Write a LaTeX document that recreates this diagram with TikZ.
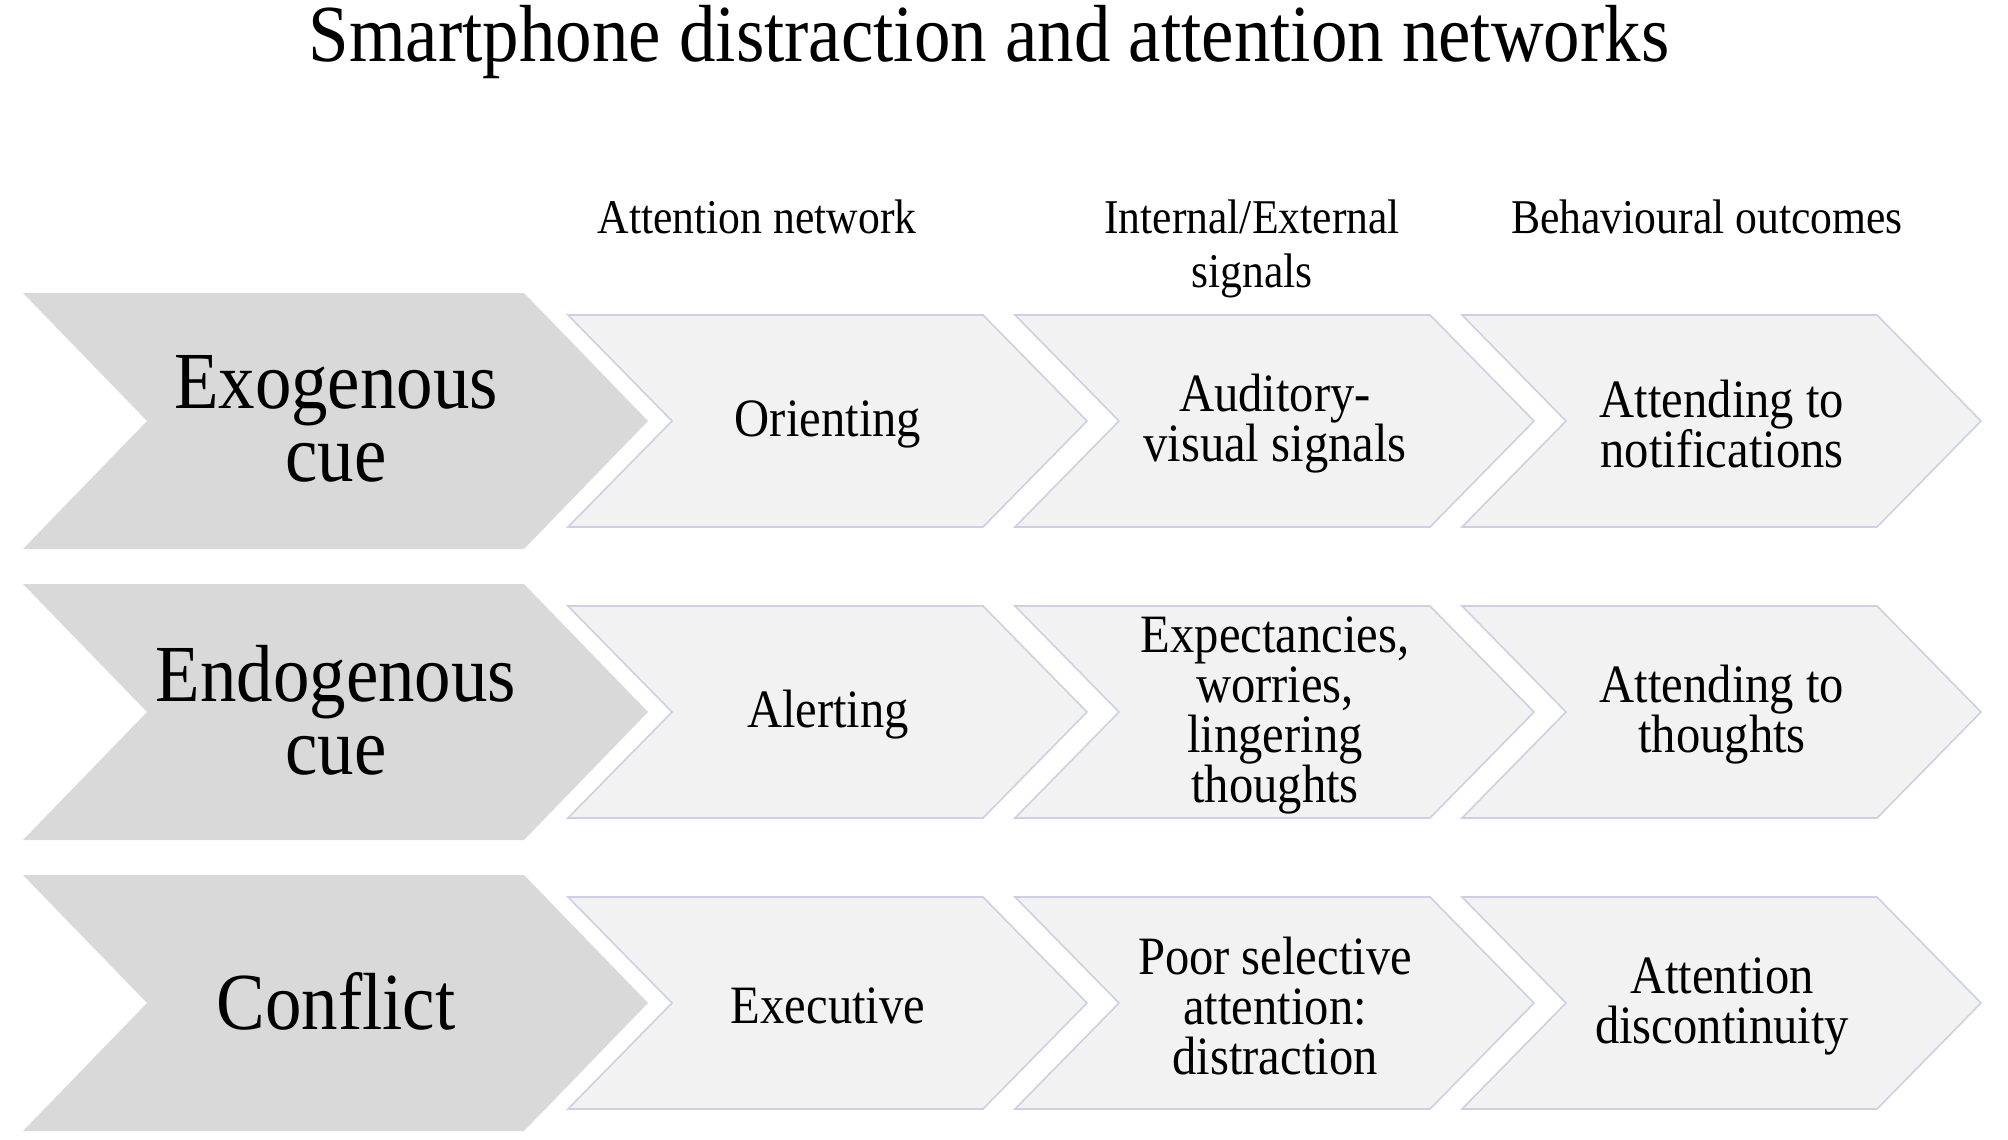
\documentclass[tikz,border=0pt]{standalone}
\usepackage{fontspec}
\setmainfont{Liberation Serif}[FakeStretch=0.9]
\newcommand\chevshape[6]{% x, ycenter, width, halfheight, depth, style
  \path[#6] (#1,{#2-#4}) -- ({#1+#3-#5},{#2-#4}) -- ({#1+#3},#2) -- ({#1+#3-#5},{#2+#4}) -- (#1,{#2+#4}) -- ({#1+#5},#2) -- cycle;}
\tikzset{
  bigchev/.style={fill=bigfill},
  smallchev/.style={fill=smallfill, draw=edgecol, line width=1.6pt, line join=miter},
  titletext/.style={inner sep=0pt, font=\fontsize{81}{81}\selectfont},
  headtext/.style={inner sep=0pt, align=center, font=\fontsize{48.5}{54}\selectfont},
  bigtext/.style={inner sep=0pt, align=center, font=\fontsize{81}{73}\selectfont},
  celltext/.style={inner sep=0pt, align=center, font=\fontsize{54}{50}\selectfont},
}
\definecolor{bigfill}{HTML}{D9D9D9}
\definecolor{smallfill}{HTML}{F2F2F2}
\definecolor{edgecol}{HTML}{CDD0E3}
\begin{document}
\begin{tikzpicture}[x=1pt,y=-1pt]
\useasboundingbox (0,0) rectangle (2008,1140);
\fill[white] (0,0) rectangle (2008,1140);
% title
\node[titletext, anchor=base] (title) at (989,62) {Smartphone distraction and attention networks};
% headers
\node[headtext, anchor=base] (h1) at (757,233) {Attention network};
\node[headtext, anchor=base] (h2) at (1252,287) {Internal/External\\ signals};
\node[headtext, anchor=base] (h3) at (1707,233) {Behavioural outcomes};
% rows
\foreach \yc in {421,712,1003}{
  \chevshape{23}{\yc}{625}{128}{124}{bigchev}
  \foreach \c in {0,1,2}{
    \chevshape{568+447*\c}{\yc}{519}{106}{104}{smallchev}
  }
}
% big labels
\node[bigtext] (r1) at (336,419) {Exogenous\\cue};
\node[bigtext] (r2) at (336,710) {Endogenous\\cue};
\node[bigtext] (r3) at (336,1001) {Conflict};
% row 1 cells
\node[celltext] (a1) at (828,424) {Orienting};
\node[celltext] (b1) at (1275,424) {Auditory-\\visual signals};
\node[celltext] (c1) at (1722,424) {Attending to\\notifications};
% row 2 cells
\node[celltext] (a2) at (828,715) {Alerting};
\node[celltext] (b2) at (1275,715) {Expectancies,\\worries,\\lingering\\thoughts};
\node[celltext] (c2) at (1722,715) {Attending to\\thoughts};
% row 3 cells
\node[celltext] (a3) at (828,1006) {Executive};
\node[celltext] (b3) at (1275,1006) {Poor selective\\attention:\\distraction};
\node[celltext] (c3) at (1722,1006) {Attention\\discontinuity};
\end{tikzpicture}
\end{document}
